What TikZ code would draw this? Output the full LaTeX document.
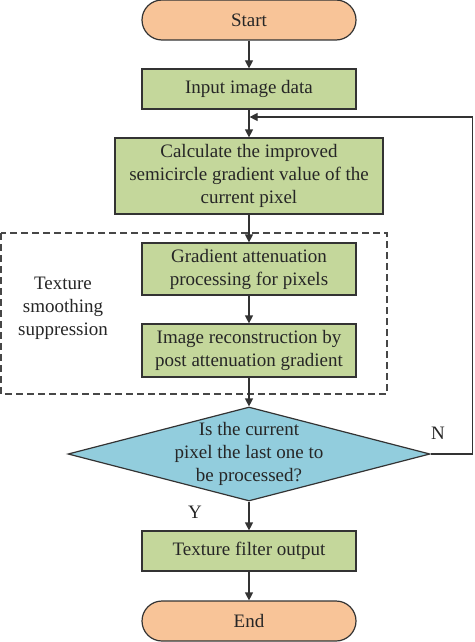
\documentclass[tikz,border=0pt]{standalone}
\usepackage{fontspec}
\setmainfont{Liberation Serif}
\usepackage{tikz}
\usetikzlibrary{shapes.geometric, arrows.meta, positioning}
\definecolor{termorange}{RGB}{248,196,152}
\definecolor{procgreen}{RGB}{196,215,155}
\definecolor{decisionblue}{RGB}{146,205,221}
\definecolor{linegray}{RGB}{51,51,51}

\begin{document}
\begin{tikzpicture}[x=1pt, y=-1pt,
    every node/.style={font=\fontsize{19}{23}\selectfont, text=black!85},
    term/.style={rectangle, rounded corners=20pt, draw=linegray, line width=1.2pt,
                fill=termorange, minimum width=214pt, minimum height=40pt, inner sep=0pt},
    proc/.style={rectangle, draw=linegray, line width=1.2pt, fill=procgreen,
                minimum width=#1, inner sep=0pt, align=center},
    proc/.default=214pt,
    decision/.style={diamond, draw=linegray, line width=1.2pt, fill=decisionblue,
                minimum width=362pt, minimum height=94pt, inner sep=0pt},
    arrow/.style={draw=linegray, line width=1.2pt, -{Triangle[length=8pt, width=8pt]}}
]
    \useasboundingbox (0,0) rectangle (474,642);

    \node[term] (start) at (249,20) {Start};
    \node[proc, minimum height=40pt] (input) at (249,89) {Input image data};
    \node[proc=268pt, minimum height=76pt] (calc) at (249,176)
        {Calculate the improved\\semicircle gradient value of the\\current pixel};
    \node[proc, minimum height=52pt] (atten) at (249,269)
        {Gradient attenuation\\processing for pixels};
    \node[proc, minimum height=53pt] (recon) at (249,350.5)
        {Image reconstruction by\\post attenuation gradient};
    \node[decision] (check) at (249,454) {};
    \node[align=center] (checktext) at (check.center)
        {Is the current\\pixel the last one to\\be processed?};
    \node[proc, minimum height=40pt] (output) at (249,551) {Texture filter output};
    \node[term] (end) at (249,621) {End};

    % Smoothing group
    \draw[linegray!90, line width=1.2pt, dash pattern=on 7pt off 4pt] (1,233) rectangle (387,394);
    \node[align=center] (group) at (63,308) {Texture\\smoothing\\suppression};

    % Branch labels
    \node (yes) at (195,512) {Y};
    \node (no) at (438,433) {N};

    % Main flow
    \draw[arrow] (start) -- (input);
    \draw[arrow] (input) -- (calc);
    \draw[arrow] (calc) -- (atten);
    \draw[arrow] (atten) -- (recon);
    \draw[arrow] (recon) -- (check);
    \draw[arrow] (check) -- (output);
    \draw[arrow] (output) -- (end);

    % Loop back
    \coordinate (loopcorner) at (472.5,454);
    \coordinate (looptop) at (472.5,117);
    \coordinate (loopend) at (249.6,117);
    \draw[arrow] (check.east) -- (loopcorner) -- (looptop) -- (loopend);
\end{tikzpicture}
\end{document}
